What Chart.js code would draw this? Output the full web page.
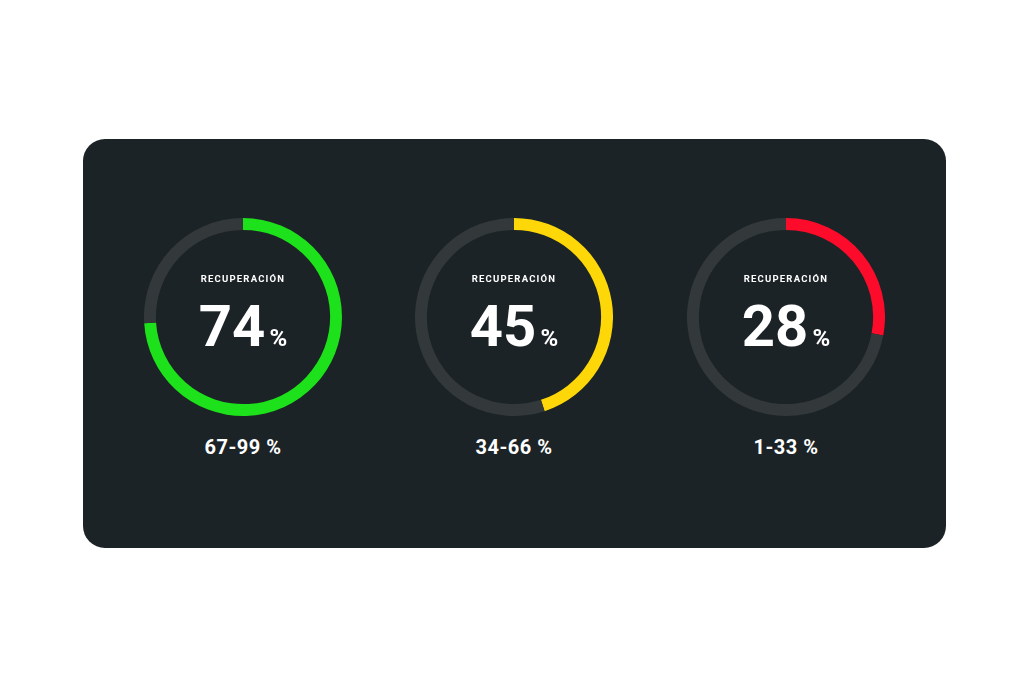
<!DOCTYPE html>
<html><head><meta charset="utf-8">
<script src="https://cdn.jsdelivr.net/npm/chart.js@4"></script>
<style>
body{margin:0;background:#fff;width:1030px;height:685px;position:relative;font-family:Roboto,"DejaVu Sans",sans-serif;}
#panel{position:absolute;left:83px;top:139px;width:863px;height:409px;background:#1c2326;border-radius:22px;}
.g{position:absolute;width:198px;height:198px;}
.t{position:absolute;color:#fff;text-align:center;width:240px;}
.lab{font-size:9.5px;font-weight:700;letter-spacing:1.2px;}
.big{font-size:58px;font-weight:700;line-height:1;}
.big span{font-size:24px;margin-left:4px;}
.rng{font-size:20px;font-weight:700;letter-spacing:0.5px;}
</style></head><body>
<div id="panel"></div>
<script>
const titles=["RECUPERACIÓN","RECUPERACIÓN","RECUPERACIÓN"];
const values=[74,45,28];
const ranges=["67-99 %","34-66 %","1-33 %"];
const colors=["#1de11a","#fdd708","#fc0c2a"];
const centersX=[243,514,786];
const cy=316.5;
const track="#33393b";
values.forEach((v,i)=>{
  const cx=centersX[i];
  const c=document.createElement('canvas');
  c.className='g';c.width=198;c.height=198;
  c.style.left=(cx-99)+'px';c.style.top=(cy-99)+'px';
  document.body.appendChild(c);
  new Chart(c,{type:'doughnut',data:{labels:['v','rest'],datasets:[{data:[v,100-v],backgroundColor:[colors[i],track],borderWidth:0}]},
    options:{responsive:false,animation:false,cutout:'88%',layout:{padding:0},plugins:{legend:{display:false},tooltip:{enabled:false}}}});
  const mk=(cls,html,top)=>{const d=document.createElement('div');d.className='t '+cls;d.innerHTML=html;d.style.left=(cx-120)+'px';d.style.top=top+'px';document.body.appendChild(d);};
  mk('lab',titles[i],273);
  mk('big',v+'<span>%</span>',297);
  mk('rng',ranges[i],435);
});
</script></body></html>
